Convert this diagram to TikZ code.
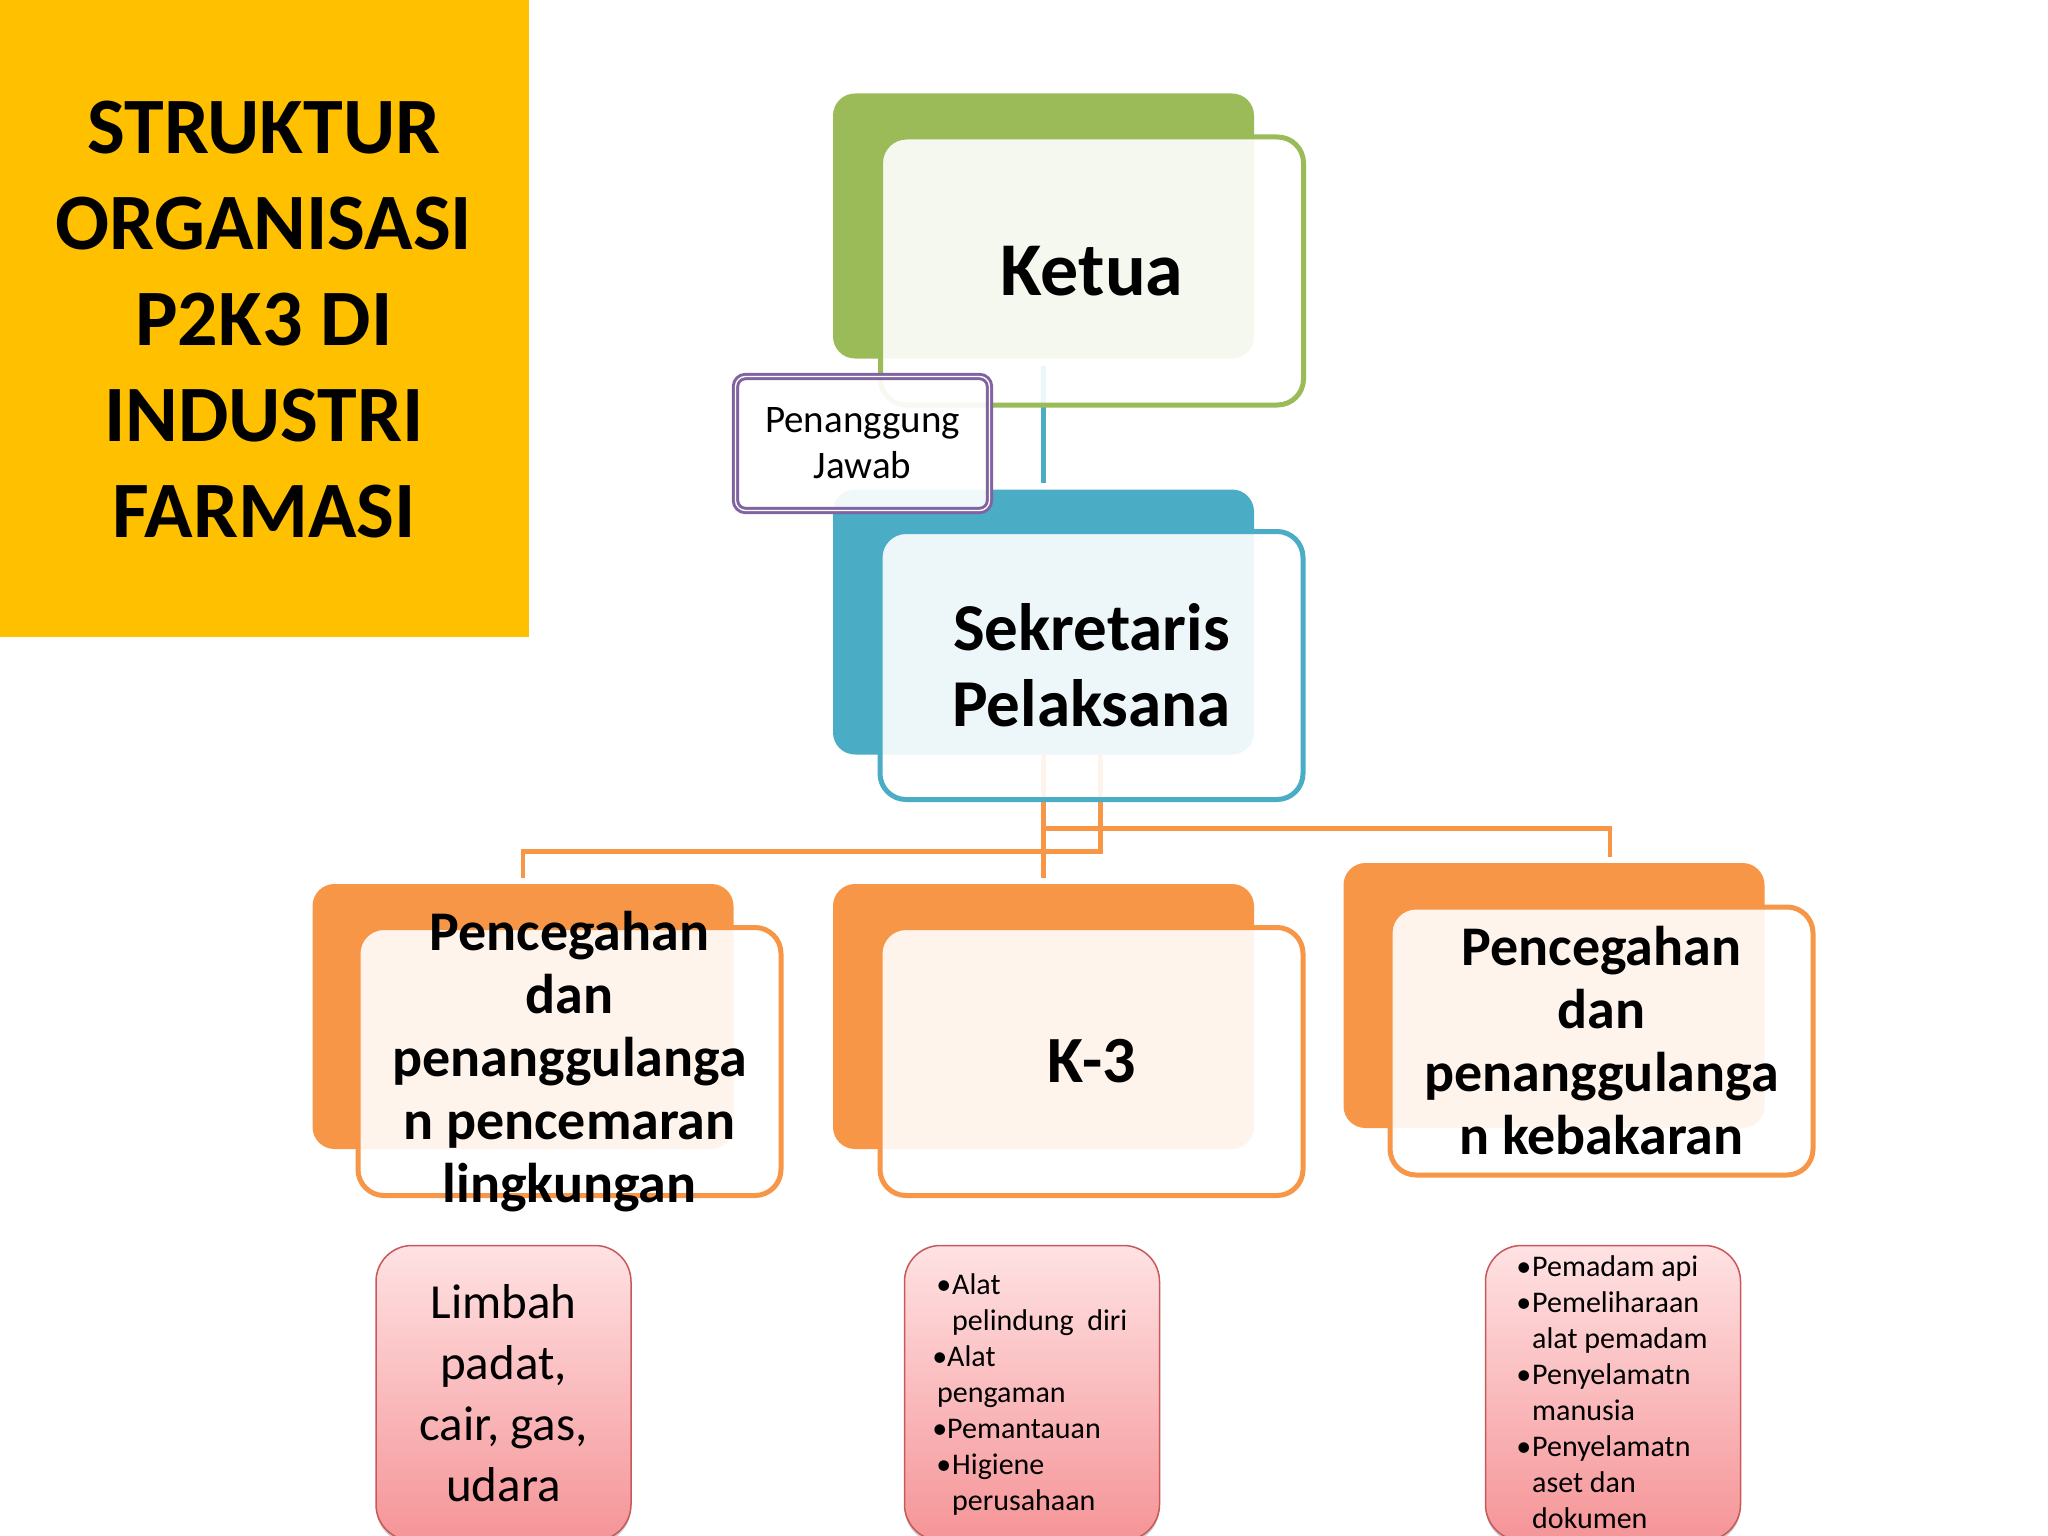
\documentclass[tikz,border=0pt]{standalone}
\usepackage{fontspec}
\setmainfont{Carlito}
\usetikzlibrary{shadows}
\definecolor{ygold}{HTML}{FFC000}
\definecolor{lgreen}{HTML}{9BBB59}
\definecolor{lblue}{HTML}{4BACC6}
\definecolor{lorange}{HTML}{F79646}
\definecolor{lpurple}{HTML}{8064A2}
\definecolor{pinkline}{HTML}{C8585A}
\definecolor{pinktop}{HTML}{FFE2E3}
\definecolor{pinkbot}{HTML}{F59497}
\newcommand{\blt}[1]{\llap{•\hspace{#1}}}
\tikzset{
  backbox/.style={rounded corners=22pt, minimum width=421pt, minimum height=265pt,
    inner sep=0pt, outer sep=0pt},
  frontbox/.style={rounded corners=26pt, minimum width=423pt, minimum height=268pt,
    inner sep=0pt, outer sep=0pt, line width=5pt, fill=white, fill opacity=0.9,
    text opacity=1, align=center},
  conn/.style={line width=4.5pt},
  pjbox/.style={draw=lpurple, double=white, double distance=1.3pt, line width=3pt,
    rounded corners=10pt, fill=white, fill opacity=0.92, text opacity=1,
    minimum width=254pt, minimum height=134pt, inner sep=0pt, align=center,
    font=\fontsize{39}{46}\selectfont},
  pinkbox/.style={draw=pinkline, line width=1.5pt, rounded corners=36pt,
    top color=pinktop, bottom color=pinkbot, minimum width=255pt, minimum height=295pt,
    inner sep=0pt, drop shadow={shadow xshift=0pt, shadow yshift=-3pt, opacity=0.35, fill=black!60}},
  bigbold/.style={font=\fontsize{56}{63}\selectfont\bfseries, align=center, inner sep=0pt},
  listtext/.style={anchor=north west, inner sep=0pt, align=left,
    font=\fontsize{30}{36}\selectfont}
}
\begin{document}
\begin{tikzpicture}[x=1pt,y=-1pt]
\useasboundingbox (0,0) rectangle (2048,1536);
\clip (0,0) rectangle (2048,1536);
% title panel
\fill[ygold] (0,0) rectangle (529,637);
\node[align=center, font=\fontsize{80}{96}\selectfont\bfseries] (title) at (264,320)
  {STRUKTUR\\ORGANISASI\\P2K3 DI\\INDUSTRI\\FARMASI};
% back boxes
\node[backbox, fill=lgreen] (kb) at (1043.5,226) {};
\node[backbox, fill=lblue] (sb) at (1043.5,622) {};
\node[backbox, fill=lorange] (lb) at (523,1016.5) {};
\node[backbox, fill=lorange] (cb) at (1043.5,1016.5) {};
\node[backbox, fill=lorange] (rb) at (1554,995.5) {};
% connectors
\draw[conn, lblue, shorten <=7pt, shorten >=7pt] (kb.south) -- (sb.north);
\draw[conn, lorange, shorten >=6pt] ([xshift=57pt]sb.south) -- ++(0,97) -| (lb.north);
\draw[conn, lorange, shorten >=6pt] (sb.south) -- (cb.north);
\draw[conn, lorange, shorten >=6pt] (sb.south) -- ++(0,74) -| ([xshift=56pt]rb.north);
% front boxes
\node[frontbox, draw=lgreen, font=\fontsize{76}{88}\selectfont\bfseries] (kf) at (1092,271) {Ketua};
\node[frontbox, draw=lblue, font=\fontsize{67}{76}\selectfont\bfseries] (sf) at (1091.5,665.5) {Sekretaris\\Pelaksana};
\node[frontbox, draw=lorange] (lf) at (569.5,1061.5) {};
\node[frontbox, draw=lorange, font=\fontsize{66}{76}\selectfont\bfseries] (cf) at (1091.5,1061.5) {K-3};
\node[frontbox, draw=lorange] (rf) at (1601.5,1041) {};
\node[bigbold] (lft) at (lf.center) {Pencegahan\\dan\\penanggulanga\\n pencemaran\\lingkungan};
\node[bigbold] (rft) at (rf.center) {Pencegahan\\dan\\penanggulanga\\n kebakaran};
% penanggung jawab
\node[pjbox] (pj) at (862.5,443.5) {Penanggung\\Jawab};
% pink boxes
\node[pinkbox, align=center, font=\fontsize{49}{61}\selectfont] (p1) at (503.5,1393) {Limbah\\padat,\\cair, gas,\\udara};
\node[pinkbox] (p2) at (1032,1393) {};
\node[pinkbox] (p3) at (1613,1393) {};
\node[listtext] (l2) at (937,1273)
  {\hspace*{15pt}\blt{1pt}Alat\\
   \hspace*{15pt}pelindung\ \ diri\\
   \hspace*{10pt}\blt{0pt}Alat\\
   pengaman\\
   \hspace*{10pt}\blt{0pt}Pemantauan\\
   \hspace*{15pt}\blt{1pt}Higiene\\
   \hspace*{15pt}perusahaan};
\node[listtext] (l3) at (1521,1255)
  {\hspace*{11pt}\blt{1pt}Pemadam api\\
   \hspace*{11pt}\blt{1pt}Pemeliharaan\\
   \hspace*{11pt}alat pemadam\\
   \hspace*{11pt}\blt{1pt}Penyelamatn\\
   \hspace*{11pt}manusia\\
   \hspace*{11pt}\blt{1pt}Penyelamatn\\
   \hspace*{11pt}aset dan\\
   \hspace*{11pt}dokumen};
\end{tikzpicture}
\end{document}
